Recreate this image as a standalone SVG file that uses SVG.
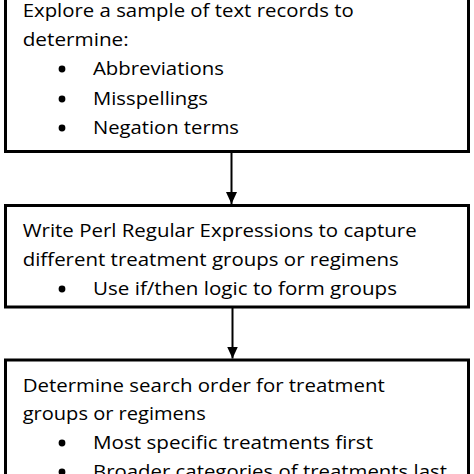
<svg xmlns="http://www.w3.org/2000/svg" width="474" height="474" viewBox="0 0 474 474">
<style>
.box{fill:#fff;stroke:#000;stroke-width:3}
.t{font-family:"Open Sans","Liberation Sans",sans-serif;font-size:19px;fill:#000}
.b{fill:#000}
.c{stroke:#000;stroke-width:2;fill:none}
</style>
<defs>
<marker id="ah" viewBox="0 0 12 11" refX="12" refY="5.5" markerWidth="12" markerHeight="11" markerUnits="userSpaceOnUse" orient="auto">
<path d="M0,0 L12,5.5 L0,11 Z" fill="#000"/>
</marker>
</defs>
<rect width="474" height="474" fill="#fff"/>
<g id="connectors">
<line class="c" x1="231.5" y1="152" x2="231.5" y2="204" marker-end="url(#ah)"/>
<line class="c" x1="232.5" y1="308" x2="232.5" y2="358.5" marker-end="url(#ah)"/>
</g>
<g id="node1">
<rect class="box" x="5.5" y="-10" width="463" height="161.5"/>
<text class="t" x="22.7" y="17" textLength="331" lengthAdjust="spacingAndGlyphs">Explore a sample of text records to</text>
<text class="t" x="22.7" y="46" textLength="106" lengthAdjust="spacingAndGlyphs">determine:</text>
<circle class="b" cx="62" cy="69" r="3.4"/>
<text class="t" x="93" y="75" textLength="131" lengthAdjust="spacingAndGlyphs">Abbreviations</text>
<circle class="b" cx="62" cy="99" r="3.4"/>
<text class="t" x="93" y="105" textLength="115" lengthAdjust="spacingAndGlyphs">Misspellings</text>
<circle class="b" cx="62" cy="128" r="3.4"/>
<text class="t" x="93" y="134" textLength="146" lengthAdjust="spacingAndGlyphs">Negation terms</text>
</g>
<g id="node2">
<rect class="box" x="5.5" y="205.5" width="463" height="101.5"/>
<text class="t" x="22.7" y="237" textLength="394" lengthAdjust="spacingAndGlyphs">Write Perl Regular Expressions to capture</text>
<text class="t" x="22.7" y="266" textLength="376" lengthAdjust="spacingAndGlyphs">different treatment groups or regimens</text>
<circle class="b" cx="62" cy="289" r="3.4"/>
<text class="t" x="93" y="295" textLength="304" lengthAdjust="spacingAndGlyphs">Use if/then logic to form groups</text>
</g>
<g id="node3">
<rect class="box" x="5.5" y="360" width="463" height="130"/>
<text class="t" x="22.7" y="392" textLength="362" lengthAdjust="spacingAndGlyphs">Determine search order for treatment</text>
<text class="t" x="22.7" y="420" textLength="183" lengthAdjust="spacingAndGlyphs">groups or regimens</text>
<circle class="b" cx="62" cy="443" r="3.4"/>
<text class="t" x="93" y="449" textLength="280" lengthAdjust="spacingAndGlyphs">Most specific treatments first</text>
<circle class="b" cx="62" cy="472" r="3.4"/>
<text class="t" x="93" y="478" textLength="354" lengthAdjust="spacingAndGlyphs">Broader categories of treatments last</text>
</g>
</svg>
